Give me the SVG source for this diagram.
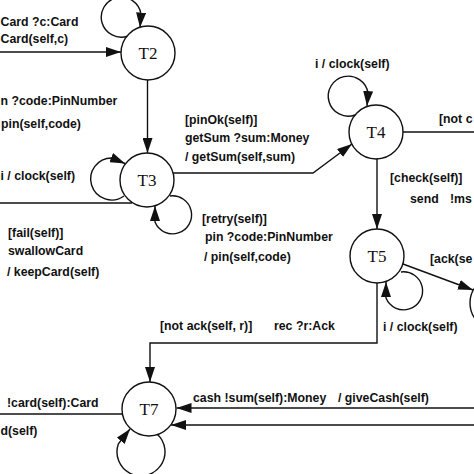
<svg xmlns="http://www.w3.org/2000/svg" width="474" height="474" viewBox="0 0 474 474">
<style>
.bg{fill:#fff}
.node circle{fill:#fff;stroke:#111;stroke-width:1.4}
.node text{font-family:"Liberation Serif","Times New Roman",serif;font-size:17px;fill:#111;text-anchor:middle}
.edges path,.edges line{fill:none;stroke:#111;stroke-width:1.4}
.arr{marker-end:url(#ah)}
.lbl{font-family:"Liberation Sans",Arial,sans-serif;font-size:12.3px;font-weight:bold;fill:#111}
</style>
<defs>
<marker id="ah" markerUnits="userSpaceOnUse" markerWidth="16" markerHeight="10" refX="15" refY="5" orient="auto">
<path d="M0,0 L15,5 L0,10 z" fill="#111"/>
</marker>
</defs>
<rect class="bg" x="0" y="0" width="474" height="474"/>
<g class="edges">
<line class="arr" x1="0" y1="52" x2="121" y2="52"/>
<path class="arr" d="M128,36 A20 20 0 1 1 141,14 L140,27.5"/>
<line class="arr" x1="147.5" y1="80" x2="147.5" y2="153"/>
<path class="arr" d="M124,196 A21 21 0 1 1 112,158 L125,163.5"/>
<path class="arr" d="M170,196 A19 19 0 1 1 155,222 L155,206"/>
<line x1="132" y1="203" x2="0" y2="203"/>
<path class="arr" d="M173,173 L313,173 L352,144"/>
<path class="arr" d="M355,115 A20 20 0 1 1 368,93 L367,106"/>
<line x1="403" y1="132" x2="474" y2="132"/>
<line class="arr" x1="377" y1="159" x2="377" y2="229"/>
<path class="arr" d="M401,272 A19 19 0 1 1 386,298 L386,282"/>
<line class="arr" x1="403" y1="264" x2="473" y2="290"/>
<path class="arr" d="M377,283 L377,343 L150,343 L150,382"/>
<line class="arr" x1="474" y1="408" x2="176.5" y2="408"/>
<line class="arr" x1="474" y1="425" x2="171" y2="425"/>
<line x1="122.5" y1="414" x2="0" y2="414"/>
<path class="arr" d="M157,434 A24 24 0 1 1 118.4,443.8 L130,429"/>
</g>
<g id="T2" class="node"><circle cx="148" cy="53" r="27"/><text x="148" y="59">T2</text></g>
<g id="T3" class="node"><circle cx="147" cy="180" r="27"/><text x="147" y="186">T3</text></g>
<g id="T4" class="node"><circle cx="376" cy="132" r="27"/><text x="376" y="138">T4</text></g>
<g id="T5" class="node"><circle cx="377" cy="256" r="27"/><text x="377" y="262">T5</text></g>
<g id="T6" class="node"><circle cx="497" cy="303" r="27"/></g>
<g id="T7" class="node"><circle cx="149" cy="409" r="27"/><text x="149" y="415">T7</text></g>
<g id="labels">
<text class="lbl" x="0.5" y="25.5">Card ?c:Card</text>
<text class="lbl" x="0.5" y="42.5">Card(self,c)</text>
<text class="lbl" x="0.5" y="104.5">n ?code:PinNumber</text>
<text class="lbl" x="1" y="127.5">pin(self,code)</text>
<text class="lbl" x="0.5" y="179.5">i / clock(self)</text>
<text class="lbl" x="8" y="236.5">[fail(self)]</text>
<text class="lbl" x="8" y="254.5">swallowCard</text>
<text class="lbl" x="7" y="276">/ keepCard(self)</text>
<text class="lbl" x="202" y="222.5">[retry(self)]</text>
<text class="lbl" x="205" y="240.5">pin ?code:PinNumber</text>
<text class="lbl" x="204" y="261">/ pin(self,code)</text>
<text class="lbl" x="315" y="67.5">i / clock(self)</text>
<text class="lbl" x="185" y="123.5">[pinOk(self)]</text>
<text class="lbl" x="185" y="141.5">getSum ?sum:Money</text>
<text class="lbl" x="185" y="160.5">/ getSum(self,sum)</text>
<text class="lbl" x="439" y="122.5">[not c</text>
<text class="lbl" x="390" y="181.5">[check(self)]</text>
<text class="lbl" x="410" y="202.5">send</text>
<text class="lbl" x="450" y="202.5">!ms</text>
<text class="lbl" x="430" y="262.5">[ack(se</text>
<text class="lbl" x="383" y="330.5">i / clock(self)</text>
<text class="lbl" x="160" y="329.5">[not ack(self, r)]</text>
<text class="lbl" x="274" y="329.5">rec ?r:Ack</text>
<text class="lbl" x="193" y="401.5">cash !sum(self):Money</text>
<text class="lbl" x="338" y="401.5">/ giveCash(self)</text>
<text class="lbl" x="7" y="406.5">!card(self):Card</text>
<text class="lbl" x="0.5" y="434.5">d(self)</text>
</g>
</svg>
